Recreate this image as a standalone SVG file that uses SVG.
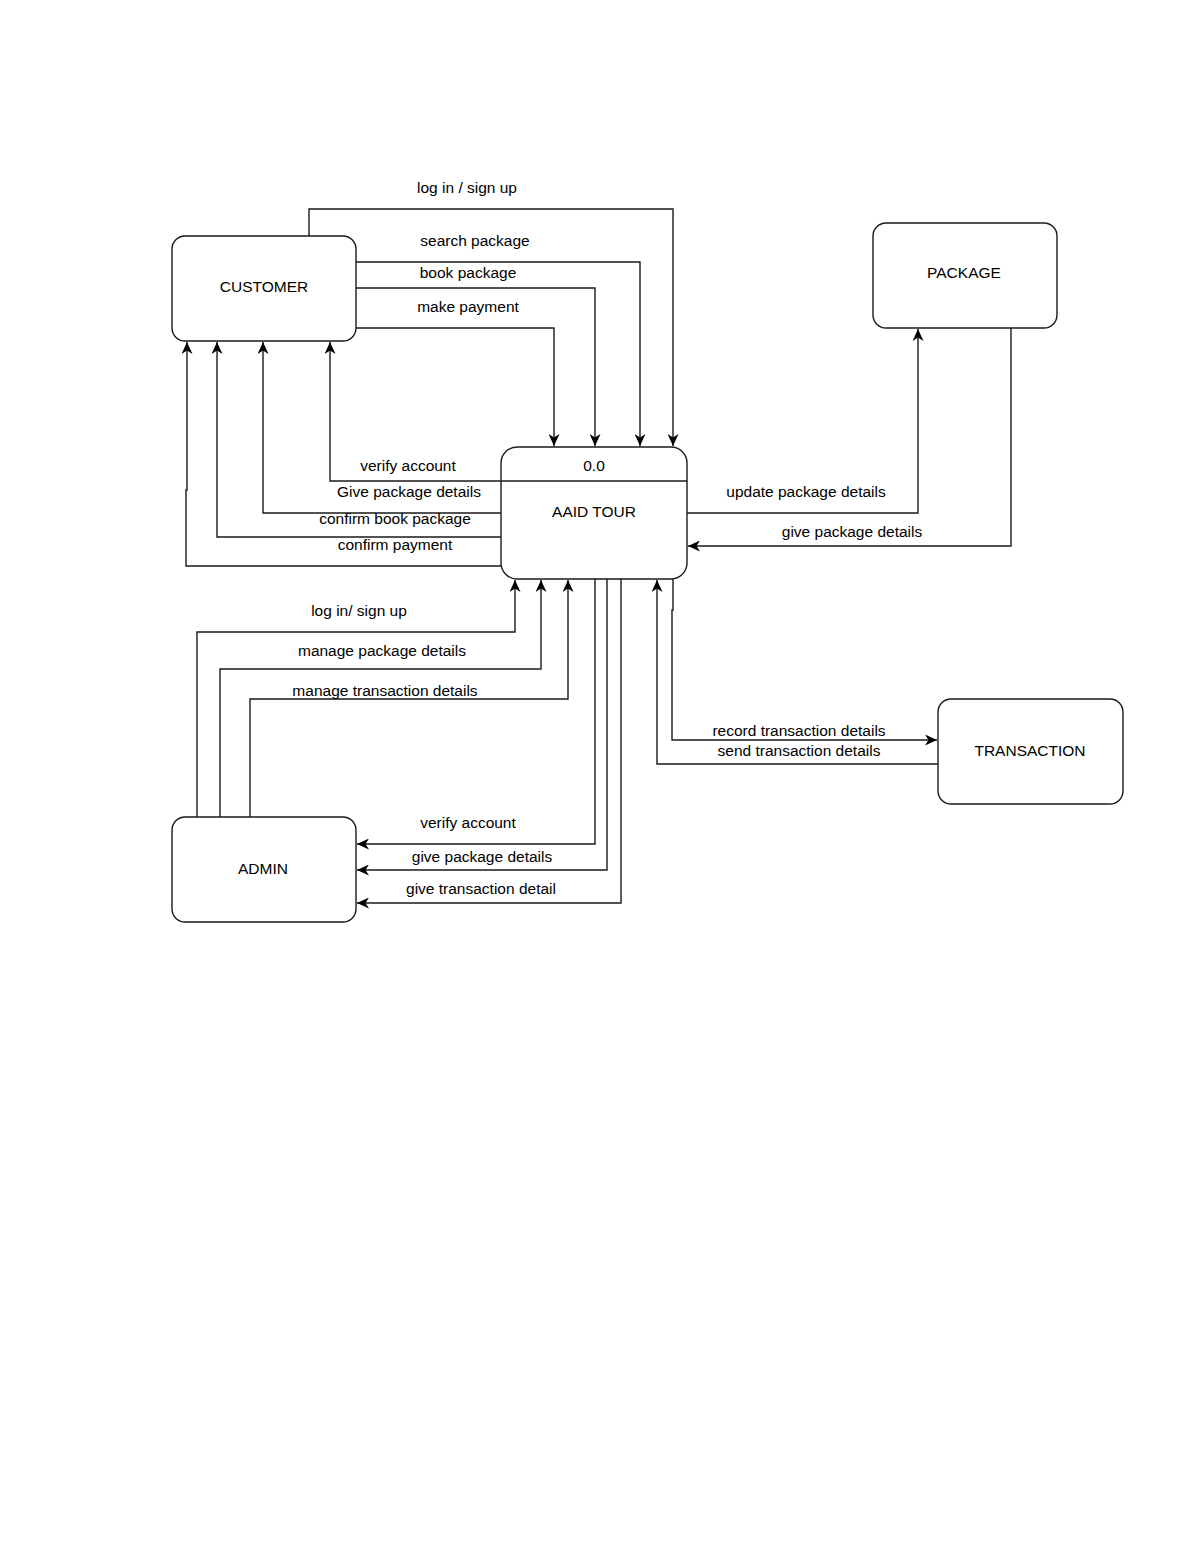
<svg xmlns="http://www.w3.org/2000/svg" width="1200" height="1554" viewBox="0 0 1200 1554">
<style>
.node{fill:#fff;stroke:#1a1a1a;stroke-width:1.4}
.c{fill:none;stroke:#1a1a1a;stroke-width:1.4}
.a{marker-end:url(#ah)}
text{font-family:"Liberation Sans",Arial,sans-serif;font-size:15.5px;fill:#000;text-anchor:middle}
</style>
<defs>
<marker id="ah" markerWidth="13" markerHeight="11" refX="12" refY="5.5" orient="auto" markerUnits="userSpaceOnUse">
<path d="M0,0 L12,5.5 L0,11 L3.5,5.5 Z" fill="#000"/>
</marker>
</defs>
<rect width="1200" height="1554" fill="#fff"/>
<g id="connectors">
<path class="c a" d="M309,236 V209 H673 V446"/>
<path class="c a" d="M356,262 H640 V446"/>
<path class="c a" d="M356,288 H595 V446"/>
<path class="c a" d="M356,328 H554 V446"/>
<path class="c a" d="M501,481 H330 V342"/>
<path class="c a" d="M501,513 H263 V342"/>
<path class="c a" d="M501,537 H217 V342"/>
<path class="c a" d="M501,566 H186 V490 H187 V342"/>
<path class="c a" d="M687,513 H918 V329"/>
<path class="c a" d="M1011,328 V546 H688"/>
<path class="c a" d="M197,817 V632 H515 V580"/>
<path class="c a" d="M220,817 V669 H541 V580"/>
<path class="c a" d="M250,817 V699 H568 V580"/>
<path class="c a" d="M595,579 V844 H357"/>
<path class="c a" d="M607,579 V870 H357"/>
<path class="c a" d="M621,579 V903 H357"/>
<path class="c a" d="M673,579 V610 H672 V740 H937"/>
<path class="c a" d="M938,764 H657 V580"/>
<text x="467" y="193">log in / sign up</text>
<text x="475" y="246">search package</text>
<text x="468" y="278">book package</text>
<text x="468" y="312">make payment</text>
<text x="408" y="471">verify account</text>
<text x="409" y="497">Give package details</text>
<text x="395" y="524">confirm book package</text>
<text x="395" y="550">confirm payment</text>
<text x="806" y="497">update package details</text>
<text x="852" y="537">give package details</text>
<text x="359" y="616">log in/ sign up</text>
<text x="382" y="656">manage package details</text>
<text x="385" y="696">manage transaction details</text>
<text x="468" y="828">verify account</text>
<text x="482" y="862">give package details</text>
<text x="481" y="894">give transaction detail</text>
<text x="799" y="736">record transaction details</text>
<text x="799" y="756">send transaction details</text>
</g>
<g id="customer">
<rect class="node" x="172" y="236" width="184" height="105" rx="13"/>
<text x="264" y="292">CUSTOMER</text>
</g>
<g id="package">
<rect class="node" x="873" y="223" width="184" height="105" rx="13"/>
<text x="964" y="278">PACKAGE</text>
</g>
<g id="aaid-tour">
<rect class="node" x="501" y="447" width="186" height="132" rx="16"/>
<line class="c" x1="501" y1="481" x2="687" y2="481"/>
<text x="594" y="471">0.0</text>
<text x="594" y="517">AAID TOUR</text>
</g>
<g id="transaction">
<rect class="node" x="938" y="699" width="185" height="105" rx="13"/>
<text x="1030" y="756">TRANSACTION</text>
</g>
<g id="admin">
<rect class="node" x="172" y="817" width="184" height="105" rx="13"/>
<text x="263" y="874">ADMIN</text>
</g>
</svg>
